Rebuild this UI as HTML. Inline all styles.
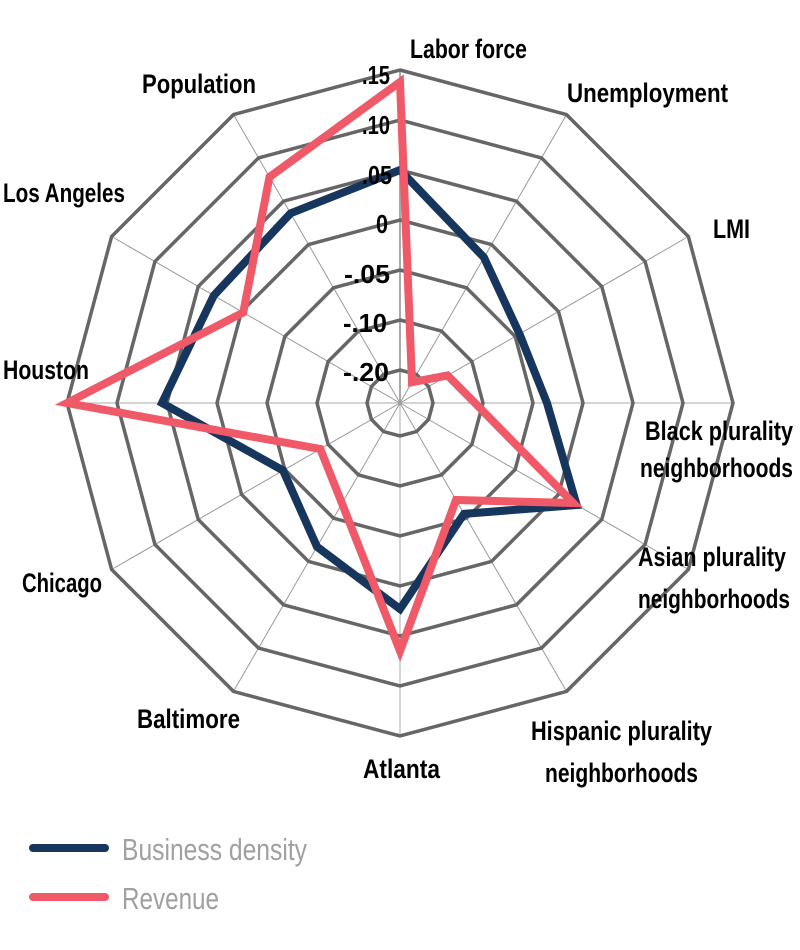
<!DOCTYPE html>
<html><head><meta charset="utf-8"><style>
html,body{margin:0;padding:0;background:#fff;}
svg{display:block}
.l{font-family:"Liberation Sans",sans-serif;font-weight:bold;font-size:27px;fill:#000}
.t{font-family:"Liberation Sans",sans-serif;font-weight:bold;font-size:26px;fill:#000;text-anchor:end}
.g{font-family:"Liberation Sans",sans-serif;font-size:31px;fill:#a0a0a0}
</style></head><body>
<svg id="s" width="800" height="950" viewBox="0 0 800 950" xmlns="http://www.w3.org/2000/svg">
<g id="grid"></g>
<g id="series"></g>
<text class="t" x="390" y="84" textLength="28" lengthAdjust="spacingAndGlyphs">.15</text>
<text class="t" x="390" y="134" textLength="28" lengthAdjust="spacingAndGlyphs">.10</text>
<text class="t" x="392" y="184" textLength="30" lengthAdjust="spacingAndGlyphs">.05</text>
<text class="t" x="388" y="233" textLength="12" lengthAdjust="spacingAndGlyphs">0</text>
<text class="t" x="390" y="283" textLength="46" lengthAdjust="spacingAndGlyphs">-.05</text>
<text class="t" x="387" y="332" textLength="44" lengthAdjust="spacingAndGlyphs">-.10</text>
<text class="t" x="389" y="381" textLength="46" lengthAdjust="spacingAndGlyphs">-.20</text>
<text class="l" x="410" y="58" textLength="117" lengthAdjust="spacingAndGlyphs">Labor force</text>
<text class="l" x="567" y="102" textLength="161" lengthAdjust="spacingAndGlyphs">Unemployment</text>
<text class="l" x="713" y="238" textLength="37" lengthAdjust="spacingAndGlyphs">LMI</text>
<text class="l" x="645" y="440" textLength="148" lengthAdjust="spacingAndGlyphs">Black plurality</text>
<text class="l" x="640" y="477" textLength="153" lengthAdjust="spacingAndGlyphs">neighborhoods</text>
<text class="l" x="638" y="566" textLength="148" lengthAdjust="spacingAndGlyphs">Asian plurality</text>
<text class="l" x="638" y="608" textLength="152" lengthAdjust="spacingAndGlyphs">neighborhoods</text>
<text class="l" x="531" y="740" textLength="181" lengthAdjust="spacingAndGlyphs">Hispanic plurality</text>
<text class="l" x="545" y="782" textLength="153" lengthAdjust="spacingAndGlyphs">neighborhoods</text>
<text class="l" x="363" y="778" textLength="77" lengthAdjust="spacingAndGlyphs">Atlanta</text>
<text class="l" x="137" y="728" textLength="103" lengthAdjust="spacingAndGlyphs">Baltimore</text>
<text class="l" x="22" y="592" textLength="80" lengthAdjust="spacingAndGlyphs">Chicago</text>
<text class="l" x="3" y="379" textLength="86" lengthAdjust="spacingAndGlyphs">Houston</text>
<text class="l" x="3" y="202" textLength="122" lengthAdjust="spacingAndGlyphs">Los Angeles</text>
<text class="l" x="142" y="93" textLength="114" lengthAdjust="spacingAndGlyphs">Population</text>
<line x1="33" y1="848" x2="105" y2="848" stroke="#17365d" stroke-width="8" stroke-linecap="round"/>
<text class="g" x="122" y="860" textLength="185" lengthAdjust="spacingAndGlyphs">Business density</text>
<line x1="33" y1="897" x2="105" y2="897" stroke="#f05a68" stroke-width="8" stroke-linecap="round"/>
<text class="g" x="122" y="909" textLength="97" lengthAdjust="spacingAndGlyphs">Revenue</text>
</svg>
<script>
var cx=400,cy=403,NS="http://www.w3.org/2000/svg";
function pt(r,i){var a=i*Math.PI/6;return [cx+r*Math.sin(a),cy-r*Math.cos(a)];}
var g=document.getElementById('grid'),s=document.getElementById('series');
for(var i=0;i<12;i++){var p=pt(333,i);var l=document.createElementNS(NS,'line');
l.setAttribute('x1',cx);l.setAttribute('y1',cy);l.setAttribute('x2',p[0]);l.setAttribute('y2',p[1]);
l.setAttribute('stroke',i==0||i==6||i==3||i==9?'#aaa':'#999');l.setAttribute('stroke-width',i==0?2:1);g.appendChild(l);}
[33,83,133,183,233,283,333].forEach(function(r){var pts=[];for(var i=0;i<12;i++)pts.push(pt(r,i).join(','));
var p=document.createElementNS(NS,'polygon');p.setAttribute('points',pts.join(' '));p.setAttribute('fill','none');
p.setAttribute('stroke','#666');p.setAttribute('stroke-width','3.5');g.appendChild(p);});
function ser(v,c){var pts=v.map(function(r,i){return pt(r,i).join(',')});var p=document.createElementNS(NS,'polygon');
p.setAttribute('points',pts.join(' '));p.setAttribute('fill','none');p.setAttribute('stroke',c);p.setAttribute('stroke-width','8');
p.setAttribute('stroke-linejoin','miter');s.appendChild(p);}
ser([233,168,138,147,204,128,206,166,135,238,215,219],'#17365d');
ser([321,24,55,75,200,112,248,116,92,333,181,261],'#f05a68');
</script>
</body></html>
